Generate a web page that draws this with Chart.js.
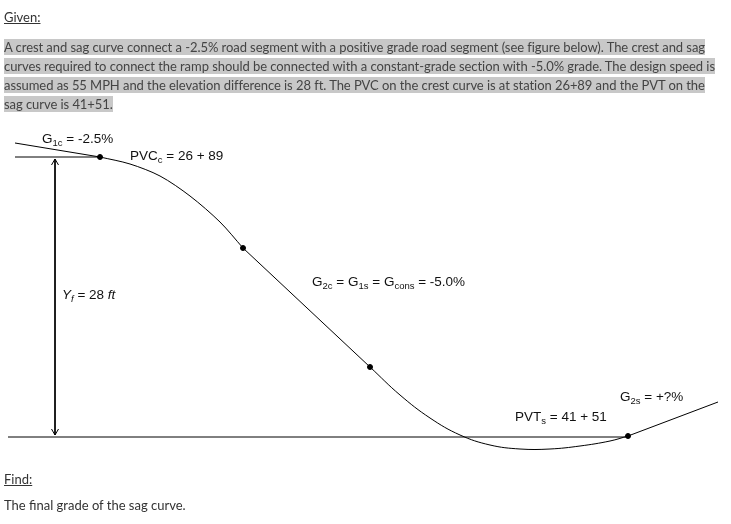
<!DOCTYPE html>
<html><head><meta charset="utf-8">
<script src="https://cdn.jsdelivr.net/npm/chart.js@4"></script>
<style>
body{margin:0;width:731px;height:524px;background:#fff;position:relative;overflow:hidden;font-family:Lato,sans-serif;color:#333}
#c{position:absolute;left:0;top:0}
.t{position:absolute;font-size:13px;line-height:19px}
.p{position:absolute;left:4px;top:38px;font-size:13px;line-height:19px;color:#444;white-space:nowrap;letter-spacing:-0.06px}
.p span{background:#c8c8c8}
.l{position:absolute;font-family:"Liberation Sans",Arial,sans-serif;font-size:13.5px;color:#111;white-space:nowrap}
sub{font-size:9.5px;vertical-align:-3px}
</style></head><body>
<canvas id="c" width="731" height="524"></canvas>
<div class="t" style="left:4px;top:8px;text-decoration:underline">Given:</div>
<div class="p"><span>A crest and sag curve connect a -2.5% road segment with a positive grade road segment (see figure below). The crest and sag</span><br><span>curves required to connect the ramp should be connected with a constant-grade section with -5.0% grade. The design speed is</span><br><span>assumed as 55 MPH and the elevation difference is 28 ft. The PVC on the crest curve is at station 26+89 and the PVT on the</span><br><span>sag curve is 41+51.</span></div>
<div class="t" style="left:4px;top:470px;text-decoration:underline">Find:</div>
<div class="t" style="left:4px;top:496px">The final grade of the sag curve.</div>
<div class="l" style="left:42px;top:131px">G<sub>1c</sub> = -2.5%</div>
<div class="l" style="left:130px;top:148px">PVC<sub>c</sub> = 26 + 89</div>
<div class="l" style="left:62px;top:287px"><i>Y<sub>f</sub></i> = 28 <i>ft</i></div>
<div class="l" style="left:312px;top:274px">G<sub>2c</sub> = G<sub>1s</sub> = G<sub>cons</sub> = -5.0%</div>
<div class="l" style="left:620px;top:389px">G<sub>2s</sub> = +?%</div>
<div class="l" style="left:515px;top:409px">PVT<sub>s</sub> = 41 + 51</div>
<script>
const tangentX=[15,100], tangentY=[143,157];
const crestX=[100,130,160,190,220,243], crestY=[157,164,176,196,222,248];
const constX=[243,370], constY=[248,367];
const sagX=[370,400,430,460,490,520,550,580,610,628], sagY=[367,395,418,435,445,449,449,446,441,436];
const exitX=[628,718], exitY=[436,402];
const topRefX=[15,100], topRefY=[157,157];
const baseX=[8,628], baseY=[437,437];
const dimX=[55,55], dimY=[159,435];
const dotX=[100,243,370,628], dotY=[157,248,367,436];
const pts=(xs,ys)=>xs.map((x,i)=>({x,y:ys[i]}));
const line=(xs,ys,extra={})=>Object.assign({data:pts(xs,ys),showLine:true,borderColor:'#000',borderWidth:1,pointRadius:0,fill:false},extra);
const arrows={id:'arrows',afterDatasetsDraw(ch){const c=ch.ctx,xs=ch.scales.x,ys=ch.scales.y;const X=xs.getPixelForValue(dimX[0]);
 const head=(y,d)=>{c.beginPath();c.moveTo(X-3.5,ys.getPixelForValue(y)+d*6);c.lineTo(X,ys.getPixelForValue(y));c.lineTo(X+3.5,ys.getPixelForValue(y)+d*6);c.strokeStyle='#000';c.lineWidth=1;c.stroke();};
 head(dimY[0],1);head(dimY[1],-1);}};
new Chart(document.getElementById('c'),{type:'scatter',
data:{datasets:[line(tangentX,tangentY),line(crestX,crestY,{tension:0.3}),line(constX,constY),
line(sagX,sagY,{tension:0.4}),line(exitX,exitY),line(topRefX,topRefY),line(baseX,baseY),line(dimX,dimY),
{data:pts(dotX,dotY),pointRadius:2.5,backgroundColor:'#000',borderColor:'#000'}]},
options:{responsive:false,animation:false,layout:{padding:0,autoPadding:false},plugins:{legend:{display:false},tooltip:{enabled:false}},
scales:{x:{type:'linear',min:0,max:731,display:false},y:{type:'linear',min:0,max:524,reverse:true,display:false}}},
plugins:[arrows]});
</script></body></html>
